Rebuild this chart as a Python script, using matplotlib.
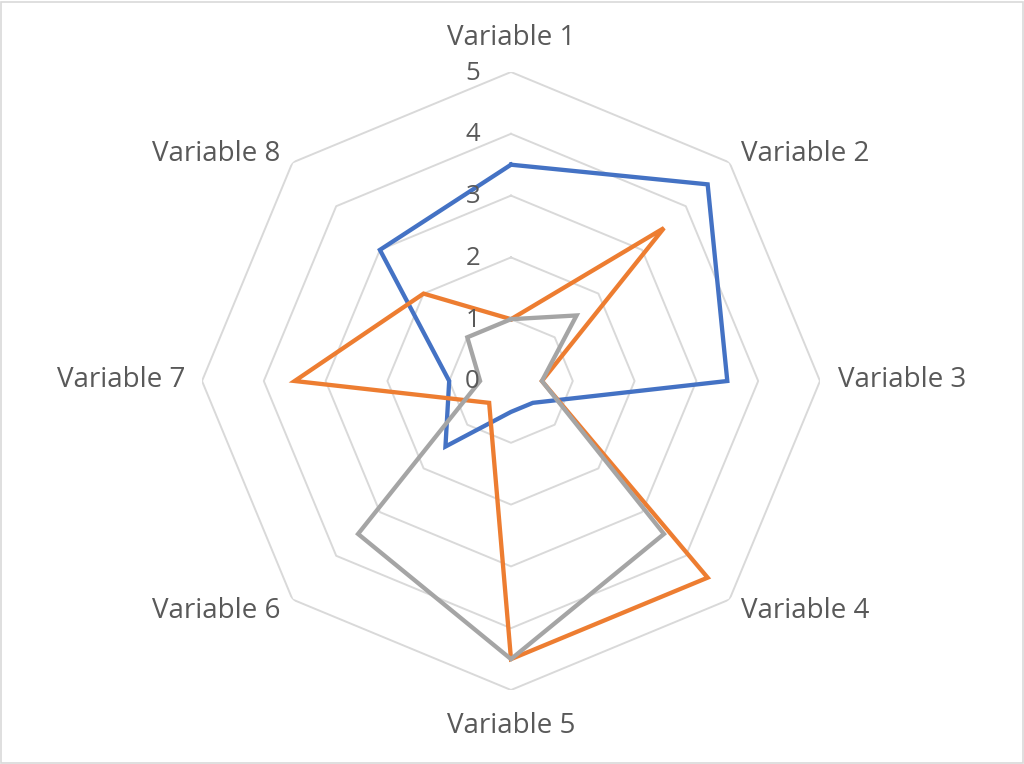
import numpy as np
import matplotlib.pyplot as plt
from matplotlib.patches import Rectangle

# radar chart data (values 0-5)
categories = ["Variable 1", "Variable 2", "Variable 3", "Variable 4",
              "Variable 5", "Variable 6", "Variable 7", "Variable 8"]
series1 = [3.5, 4.5, 3.5, 0.5, 0.5, 1.5, 1, 3]
series2 = [1, 3.5, 0.5, 4.5, 4.5, 0.5, 3.5, 2]
series3 = [1, 1.5, 0.5, 3.5, 4.5, 3.5, 0.5, 1]
ticks = [0, 1, 2, 3, 4, 5]

colors = ["#4472C4", "#ED7D31", "#A5A5A5"]
text_color = "#595959"
grid_color = "#d9d9d9"

plt.rcParams['font.family'] = ['Open Sans', 'DejaVu Sans']

n = len(categories)
angles = np.linspace(0, 2*np.pi, n, endpoint=False)
closed = np.append(angles, angles[0])

fig = plt.figure(figsize=(10.24, 7.64), dpi=100)
ax = fig.add_axes([202/1024, 74/764, 618/1024, 618/764], projection='polar')
ax.set_theta_offset(np.pi/2)
ax.set_theta_direction(-1)
ax.set_ylim(0, 5)
ax.set_xticks([])
ax.set_yticks([])
ax.grid(False)
ax.spines['polar'].set_visible(False)
ax.patch.set_alpha(0)

# octagonal grid rings
for r in ticks[1:]:
    ax.plot(closed, [r]*(n+1), color=grid_color, lw=1.4, zorder=1)

# series
for vals, c in zip([series1, series2, series3], colors):
    v = np.append(vals, vals[0])
    ax.plot(closed, v, color=c, lw=3.1, solid_joinstyle='miter', zorder=3)

# radial tick labels left of the first axis
for t in ticks:
    ax.annotate(str(t), xy=(0, t), xytext=(-31, -1), textcoords='offset pixels',
                ha='right', va='center', fontsize=18.5, color=text_color)

# category labels around the outer ring
offsets = [(0, 27), (12, 1.5), (18, -6), (12, -18.5),
           (0, -43), (-12, -18.5), (-17, -6), (-12, 1.5)]
aligns = ['center', 'left', 'left', 'left', 'center', 'right', 'right', 'right']
for a, lab, off, ha in zip(angles, categories, offsets, aligns):
    ax.annotate(lab, xy=(a, 5), xytext=off, textcoords='offset pixels',
                ha=ha, va='baseline', fontsize=20, color=text_color)

# chart area border
fig.patches.append(Rectangle((0.001, 0.001), 0.998, 0.997, transform=fig.transFigure,
                             fill=False, edgecolor=grid_color, lw=1.2))

fig.savefig('out.png', dpi=100)
